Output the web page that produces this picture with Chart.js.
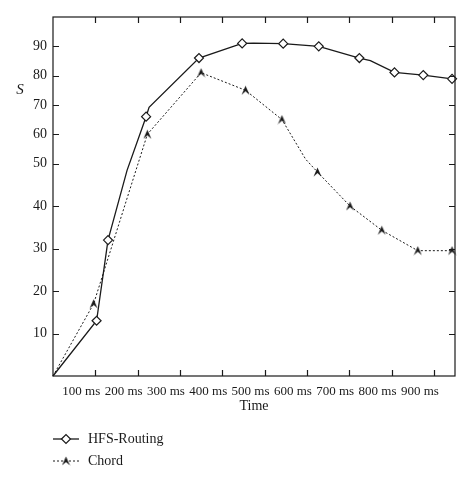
<!DOCTYPE html>
<html lang="en">
<head>
  <meta charset="UTF-8" />
  <title>HFS-Routing vs Chord</title>
  <script src="https://cdn.jsdelivr.net/npm/chart.js"></script>
  <style>
    html, body { margin: 0; padding: 0; background: #fff; }
    #wrap { width: 474px; height: 482px; }
  </style>
</head>
<body>
  <div id="wrap"><canvas id="chart" width="474" height="482"></canvas></div>

  <script>
    // data (time in ms, S)
    const timeTicks = [100, 200, 300, 400, 500, 600, 700, 800, 900];
    const timeLabels = ['100 ms', '200 ms', '300 ms', '400 ms', '500 ms', '600 ms', '700 ms', '800 ms', '900 ms'];
    const sTicks = [10, 20, 30, 40, 50, 60, 70, 80, 90];

    const hfsTime = [0, 103, 130, 175, 220, 227, 345, 447, 474, 544, 628, 724, 750, 807, 875, 943];
    const hfsS = [0, 13, 32, 48.4, 66, 69.2, 86, 91, 91.1, 90.9, 90, 86, 85.1, 81.1, 80.2, 78.9];
    const hfsMarked = [false, true, true, false, true, false, true, true, false, true, true, true, false, true, true, true];

    const chordTime = [0, 96, 223, 350, 455, 541, 597, 625, 702, 777, 862, 943];
    const chordS = [0, 17, 60, 81, 75, 65, 51.5, 48, 40, 34.3, 29.5, 29.5];
    const chordMarked = [false, true, true, true, true, true, false, true, true, true, true, true];

    const ink = '#1a1a1a';
    Chart.defaults.font.family = '"Liberation Serif", "DejaVu Serif", serif';
    Chart.defaults.font.size = 13;
    Chart.defaults.color = ink;

    // y axis in the figure is stretched below 50 and squeezed above it
    const A = 1.1833, B = 0.8167;
    const warp = v => v <= 50 ? v * A : 50 * A + (v - 50) * B;
    const unwarp = w => w <= 50 * A ? w / A : 50 + (w - 50 * A) / B;

    class SplitScale extends Chart.LinearScale {
      getPixelForValue(value) { return super.getPixelForValue(warp(value)); }
      getValueForPixel(pixel) { return unwarp(super.getValueForPixel(pixel)); }
    }
    SplitScale.id = 'split';
    SplitScale.defaults = Chart.LinearScale.defaults;
    Chart.register(SplitScale);

    // caret marker used for Chord
    const caret = document.createElement('canvas');
    caret.width = 9; caret.height = 10;
    const cc = caret.getContext('2d');
    cc.fillStyle = ink;
    cc.beginPath();
    cc.moveTo(4.5, 0.5);
    cc.lineTo(8.5, 9.5);
    cc.lineTo(4.5, 6);
    cc.lineTo(0.5, 9.5);
    cc.closePath();
    cc.fill();

    const toPoints = (xs, ys) => xs.map((x, i) => ({ x: x, y: ys[i] }));

    const frame = {
      id: 'frame',
      afterDraw(chart) {
        const { ctx, chartArea: a, scales: { x, y } } = chart;
        ctx.save();
        ctx.strokeStyle = ink;
        ctx.lineWidth = 1.2;
        ctx.strokeRect(a.left, a.top, a.right - a.left, a.bottom - a.top);
        ctx.beginPath();
        x.ticks.forEach(t => {
          const px = Math.round(x.getPixelForValue(t.value)) + 0.5;
          ctx.moveTo(px, a.bottom); ctx.lineTo(px, a.bottom - 6);
          ctx.moveTo(px, a.top); ctx.lineTo(px, a.top + 6);
        });
        y.ticks.forEach(t => {
          const py = Math.round(y.getPixelForValue(t.value)) + 0.5;
          ctx.moveTo(a.left, py); ctx.lineTo(a.left + 6, py);
          ctx.moveTo(a.right, py); ctx.lineTo(a.right - 6, py);
        });
        ctx.stroke();

        ctx.fillStyle = ink;
        ctx.textBaseline = 'middle';
        ctx.font = 'italic 15px "Liberation Serif", serif';
        ctx.textAlign = 'center';
        ctx.fillText('S', 20, 90);
        ctx.font = '14px "Liberation Serif", serif';
        ctx.fillText('Time', (a.left + a.right) / 2, 406);

        // legend
        const rows = [
          { label: 'HFS-Routing', ds: chart.data.datasets[0], y: 439 },
          { label: 'Chord', ds: chart.data.datasets[1], y: 461 }
        ];
        ctx.textAlign = 'left';
        rows.forEach(r => {
          ctx.save();
          ctx.strokeStyle = ink;
          ctx.lineWidth = r.ds.borderWidth;
          ctx.setLineDash(r.ds.borderDash || []);
          ctx.beginPath();
          ctx.moveTo(53, r.y); ctx.lineTo(79, r.y);
          ctx.stroke();
          ctx.restore();
          ctx.fillStyle = '#fff';
          Chart.helpers.drawPoint(ctx, {
            pointStyle: r.ds.pointStyle, radius: 4.5, rotation: 0, borderWidth: 1.2
          }, 66, r.y);
          ctx.fillStyle = ink;
          ctx.fillText(r.label, 88, r.y);
        });
        ctx.restore();
      }
    };

    new Chart(document.getElementById('chart'), {
      type: 'line',
      data: {
        datasets: [
          {
            label: 'HFS-Routing',
            data: toPoints(hfsTime, hfsS),
            borderColor: ink,
            borderWidth: 1.3,
            backgroundColor: '#fff',
            pointStyle: 'rectRot',
            pointRadius: hfsMarked.map(m => m ? 4.5 : 0),
            pointBorderWidth: 1.2,
            pointBorderColor: ink,
            pointBackgroundColor: '#fff',
            tension: 0,
            clip: 10
          },
          {
            label: 'Chord',
            data: toPoints(chordTime, chordS),
            borderColor: ink,
            borderWidth: 1,
            borderDash: [2, 2],
            pointStyle: caret,
            pointRadius: chordMarked.map(m => m ? 5 : 0),
            tension: 0,
            clip: 10
          }
        ]
      },
      options: {
        responsive: false,
        animation: false,
        layout: { padding: { left: 0, right: 19, top: 17, bottom: 0 } },
        plugins: { legend: { display: false }, tooltip: { enabled: false } },
        elements: { point: { hoverRadius: 0 } },
        scales: {
          x: {
            type: 'linear',
            min: 0,
            max: 950,
            afterBuildTicks: s => { s.ticks = timeTicks.map(v => ({ value: v })); },
            afterFit: s => { s.height = 106; },
            grid: { display: false, drawTicks: false },
            border: { display: false },
            ticks: {
              autoSkip: false,
              maxRotation: 0,
              padding: 8,
              labelOffset: -14,
              callback: v => timeLabels[timeTicks.indexOf(v)]
            }
          },
          y: {
            type: 'split',
            min: 0,
            max: 100,
            afterBuildTicks: s => { s.ticks = sTicks.map(v => ({ value: v })); },
            afterFit: s => { s.width = 53; },
            grid: { display: false, drawTicks: false },
            border: { display: false },
            ticks: { padding: 6, font: { size: 14 }, callback: v => String(v) }
          }
        }
      },
      plugins: [frame]
    });
  </script>
</body>
</html>
